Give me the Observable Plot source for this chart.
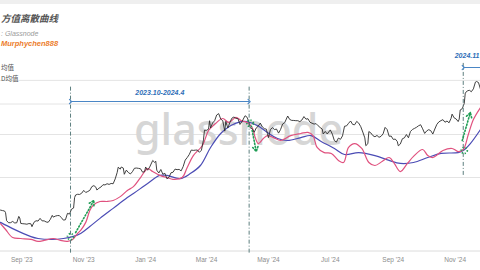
<!DOCTYPE html>
<html><head><meta charset="utf-8">
<script src="https://cdn.jsdelivr.net/npm/d3@7"></script>
<script src="https://cdn.jsdelivr.net/npm/@observablehq/plot@0.6"></script>
<style>
html,body{margin:0;padding:0;background:#fff;overflow:hidden;}
#wrap{position:relative;width:480px;height:270px;overflow:hidden;background:#fff;}
#chart svg{display:block;}
.ov{position:absolute;left:0;white-space:nowrap;line-height:1;font-family:"Liberation Sans","Noto Sans CJK SC",sans-serif;}
</style></head><body>
<div id="wrap">
<div id="chart"></div>
<div class="ov" style="top:0;width:480px;height:4px;background:#efefef"></div>
<div class="ov" id="title" style="top:14px;left:1px;font-size:9.5px;font-weight:bold;font-style:italic;color:#555;font-family:'Noto Sans CJK SC',sans-serif;"></div>
<div class="ov" id="source" style="top:29.5px;left:1px;font-size:7px;font-style:italic;color:#9a9a9a;"></div>
<div class="ov" id="author" style="top:40px;left:1px;font-size:7.5px;font-weight:bold;font-style:italic;color:#ec7c2a;"></div>
<div class="ov" id="leg1" style="top:63.5px;left:1px;font-size:6.5px;color:#555;font-family:'Noto Sans CJK SC',sans-serif;"></div>
<div class="ov" id="leg2" style="top:74.5px;left:1px;font-size:6.5px;color:#555;font-family:'Noto Sans CJK SC',sans-serif;"></div>
</div>
<script>
// ---- texts ----
const titleText = "方值离散曲线";
const sourceText = ": Glassnode";
const authorText = "Murphychen888";
const legendTexts = ["均值", "D均值"];
const watermark = "glassnode";

// ---- axis ----
const xStart = "2023-08-11", xEnd = "2024-11-26";
const tickDates = ["2023-09-01","2023-11-01","2024-01-01","2024-03-01","2024-05-01","2024-07-01","2024-09-01","2024-11-01"];
const gridPrices = [40000, 60000, 80000, 100000];
const axisPrice = 20000;

// ---- BTC price (black) ----
const btcPrice = [
["2023-08-11",29420],["2023-08-13",29280],["2023-08-15",29170],["2023-08-16",28700],["2023-08-17",26630],["2023-08-19",26100],["2023-08-21",26130],["2023-08-23",26430],["2023-08-25",26050],["2023-08-27",26100],["2023-08-29",27720],["2023-08-30",27300],["2023-08-31",25940],
["2023-09-02",25870],["2023-09-04",25830],["2023-09-06",25750],["2023-09-08",25910],["2023-09-10",25840],["2023-09-11",25160],["2023-09-13",26230],["2023-09-15",26600],["2023-09-17",26530],["2023-09-19",27210],["2023-09-21",26570],["2023-09-23",26580],["2023-09-25",26300],["2023-09-27",26220],["2023-09-29",26910],
["2023-10-01",27990],["2023-10-02",27530],["2023-10-04",27790],["2023-10-06",27930],["2023-10-08",27940],["2023-10-10",27390],["2023-10-12",26760],["2023-10-14",26860],["2023-10-16",28520],["2023-10-18",28330],["2023-10-20",29670],["2023-10-22",29990],["2023-10-23",33090],["2023-10-24",33920],["2023-10-26",34150],["2023-10-28",34090],["2023-10-30",34500],
["2023-11-01",35420],["2023-11-03",34730],["2023-11-05",35050],["2023-11-07",35430],["2023-11-09",36700],["2023-11-11",37060],["2023-11-13",36490],["2023-11-14",35540],["2023-11-16",36160],["2023-11-18",36570],["2023-11-20",37370],["2023-11-22",37290],["2023-11-24",37720],["2023-11-26",37480],["2023-11-28",37820],["2023-11-30",37710],
["2023-12-02",39460],["2023-12-04",41980],["2023-12-05",44080],["2023-12-07",43290],["2023-12-08",44170],["2023-12-10",43730],["2023-12-11",41240],["2023-12-13",42890],["2023-12-15",41930],["2023-12-17",41360],["2023-12-19",42260],["2023-12-21",43650],["2023-12-23",43740],["2023-12-25",43610],["2023-12-27",43440],["2023-12-29",42070],["2023-12-31",42270],
["2024-01-01",44170],["2024-01-03",42850],["2024-01-05",44150],["2024-01-08",46970],["2024-01-10",46110],["2024-01-11",46630],["2024-01-12",42850],["2024-01-14",41730],["2024-01-16",43150],["2024-01-18",41260],["2024-01-20",41620],["2024-01-22",39510],["2024-01-24",40080],["2024-01-26",41820],["2024-01-28",42030],["2024-01-30",43300],
["2024-02-01",43080],["2024-02-03",43190],["2024-02-05",42580],["2024-02-07",44350],["2024-02-09",47140],["2024-02-11",48300],["2024-02-13",49700],["2024-02-15",51830],["2024-02-17",51660],["2024-02-19",51780],["2024-02-21",51850],["2024-02-23",50730],["2024-02-25",51730],["2024-02-27",57060],["2024-02-28",62500],
["2024-03-01",62440],["2024-03-03",63110],["2024-03-04",68330],["2024-03-05",63800],["2024-03-07",66940],["2024-03-09",68310],["2024-03-11",72120],["2024-03-13",73080],["2024-03-15",69460],["2024-03-17",68390],["2024-03-19",61930],["2024-03-20",67910],["2024-03-22",63780],["2024-03-24",67210],["2024-03-26",69990],["2024-03-28",70780],["2024-03-30",69890],
["2024-04-01",69700],["2024-04-03",65980],["2024-04-05",67840],["2024-04-08",71630],["2024-04-10",70590],["2024-04-12",67120],["2024-04-13",63920],["2024-04-15",63430],["2024-04-17",61280],["2024-04-19",63820],["2024-04-21",64940],["2024-04-23",66840],["2024-04-25",64480],["2024-04-27",63420],["2024-04-29",63110],["2024-04-30",60640],
["2024-05-01",58250],["2024-05-03",62900],["2024-05-05",64010],["2024-05-07",62880],["2024-05-09",63160],["2024-05-11",60790],["2024-05-13",62930],["2024-05-15",66270],["2024-05-17",67050],["2024-05-20",71450],["2024-05-22",69160],["2024-05-24",68550],["2024-05-26",68520],["2024-05-28",68370],["2024-05-30",68350],
["2024-06-01",67750],["2024-06-03",68800],["2024-06-05",71080],["2024-06-07",69340],["2024-06-09",69650],["2024-06-11",67320],["2024-06-13",66770],["2024-06-15",66210],["2024-06-17",66490],["2024-06-19",65160],["2024-06-21",64100],["2024-06-23",63180],["2024-06-24",60280],["2024-06-26",61790],["2024-06-28",60320],
["2024-07-01",62680],["2024-07-03",60210],["2024-07-05",56660],["2024-07-07",55860],["2024-07-09",58020],["2024-07-11",57340],["2024-07-13",59210],["2024-07-15",64870],["2024-07-17",65100],["2024-07-19",66710],["2024-07-21",68170],["2024-07-23",65990],["2024-07-25",65780],["2024-07-27",67910],["2024-07-29",66810],["2024-07-31",64630],
["2024-08-02",61410],["2024-08-04",58120],["2024-08-05",53990],["2024-08-07",55030],["2024-08-08",61710],["2024-08-10",60880],["2024-08-12",59350],["2024-08-14",58740],["2024-08-16",59490],["2024-08-18",58430],["2024-08-20",59010],["2024-08-22",60380],["2024-08-24",64180],["2024-08-26",62880],["2024-08-28",59030],["2024-08-30",59120],
["2024-09-01",57300],["2024-09-03",57480],["2024-09-05",56180],["2024-09-06",53950],["2024-09-08",54840],["2024-09-10",57650],["2024-09-12",58130],["2024-09-14",60000],["2024-09-16",58200],["2024-09-18",61760],["2024-09-20",62950],["2024-09-22",63580],["2024-09-24",64260],["2024-09-26",65180],["2024-09-28",65790],["2024-09-30",63330],
["2024-10-02",60630],["2024-10-04",62090],["2024-10-06",62820],["2024-10-08",62220],["2024-10-10",60270],["2024-10-12",63200],["2024-10-14",66050],["2024-10-16",67610],["2024-10-18",68410],["2024-10-20",69030],["2024-10-22",67380],["2024-10-24",68160],["2024-10-26",67010],["2024-10-28",69910],["2024-10-29",72720],["2024-10-31",70220],
["2024-11-02",69480],["2024-11-04",67800],["2024-11-05",69360],["2024-11-06",75640],["2024-11-08",76540],["2024-11-10",80470],["2024-11-11",88700],["2024-11-13",90580],["2024-11-15",91070],["2024-11-17",89850],["2024-11-19",92310],["2024-11-21",98400],["2024-11-22",98980],["2024-11-24",98000],["2024-11-26",91990]
];

// ---- short average (pink) ----
const shortAvg = [
["2023-08-11",25900],["2023-08-16",24500],["2023-08-23",22700],["2023-08-31",22500],["2023-09-10",22300],["2023-09-17",21900],["2023-09-23",22100],["2023-10-02",22500],["2023-10-09",22100],["2023-10-16",21900],["2023-10-21",22300],["2023-10-26",23600],["2023-10-29",24300],
["2023-11-03",26200],["2023-11-07",29300],["2023-11-10",30700],["2023-11-17",31900],["2023-11-24",31900],["2023-11-30",32200],["2023-12-07",33400],["2023-12-14",35400],["2023-12-20",36700],["2023-12-27",40000],
["2024-01-03",43500],["2024-01-08",42300],["2024-01-15",40800],["2024-01-22",40000],["2024-01-28",39300],["2024-02-06",40000],["2024-02-11",44000],["2024-02-17",49200],["2024-02-26",54100],
["2024-03-03",62300],["2024-03-10",66600],["2024-03-17",69800],["2024-03-23",67200],["2024-03-30",70500],["2024-04-04",68500],["2024-04-10",67200],["2024-04-15",64100],["2024-04-18",58300],["2024-04-21",55100],["2024-04-26",57800],["2024-04-30",59400],
["2024-05-06",58300],["2024-05-13",56700],["2024-05-23",59400],["2024-06-02",60600],["2024-06-09",61200],["2024-06-14",59400],["2024-06-18",53100],["2024-06-25",50600],["2024-07-02",50200],["2024-07-09",47000],["2024-07-14",46100],["2024-07-19",53100],["2024-07-25",55100],
["2024-08-01",52600],["2024-08-08",46100],["2024-08-14",44800],["2024-08-21",46500],["2024-08-28",48300],["2024-09-02",45700],["2024-09-08",42300],["2024-09-15",45700],["2024-09-21",48800],["2024-09-30",52100],["2024-10-05",49200],["2024-10-10",48300],["2024-10-20",51600],["2024-10-29",52600],
["2024-11-04",51100],["2024-11-09",52100],["2024-11-14",60000],["2024-11-19",69100],["2024-11-26",77400]
];

// ---- long average (blue) ----
const longAvg = [
["2023-08-11",26200],["2023-08-23",24700],["2023-09-10",22900],["2023-09-17",22500],["2023-09-30",22300],["2023-10-12",22500],["2023-10-21",22900],["2023-10-29",23600],["2023-11-07",25200],["2023-11-17",27200],["2023-11-30",29900],
["2023-12-14",33100],["2023-12-20",34400],["2024-01-03",37800],["2024-01-15",40800],["2024-01-22",40800],["2024-02-04",39600],["2024-02-14",41500],["2024-02-24",44800],["2024-03-05",53100],["2024-03-15",60600],["2024-03-25",65300],
["2024-04-04",67800],["2024-04-10",67800],["2024-04-20",65300],["2024-04-30",61200],["2024-05-10",57800],["2024-05-20",56700],["2024-06-02",58300],["2024-06-12",59400],["2024-06-22",56200],["2024-07-05",52600],["2024-07-15",49700],["2024-07-29",50600],
["2024-08-14",49200],["2024-08-28",47000],["2024-09-08",45700],["2024-09-21",46100],["2024-10-05",48300],["2024-10-18",50200],["2024-11-04",50600],["2024-11-09",51600],["2024-11-16",55100],["2024-11-26",62900]
];

// ---- annotations ----
const markerLines = [["2023-10-19",19600,94400],["2024-04-12",19600,94400],["2024-11-09",40800,118000]];
const spanArrows = [["2023-10-19",81900,"2024-04-12",81900,true],["2024-11-09",112900,"2024-12-25",112900,false]];
const spanLabels = [["2024-01-15",89200,"2023.10-2024.4","middle"],["2024-11-26",126000,"2024.11","end"]];
const rings = [["2023-10-19",22900,7],["2024-04-13",66600,8],["2024-11-10",51600,7]];
const greenArrows = [["2023-10-24",23800,"2023-11-11",32200],["2024-04-15",62300,"2024-04-19",51100],["2024-11-08",56700,"2024-11-16",73800]];

// ---- build ----
const parse = d3.utcParse("%Y-%m-%d");
const rows = arr => arr.map(([d, v]) => ({date: parse(d), value: v}));
document.getElementById("title").textContent = titleText;
document.getElementById("source").textContent = sourceText;
document.getElementById("author").textContent = authorText;
document.getElementById("leg1").textContent = legendTexts[0];
document.getElementById("leg2").textContent = legendTexts[1];

const green = "#1f9d55";
const labelStyle = {x: d => parse(d[0]), y: d => d[1], text: d => d[2], fill: "#2f6fb8", fontSize: 7, fontWeight: "bold", fontStyle: "italic"};
const chart = Plot.plot({
  width: 480, height: 270,
  marginTop: 0, marginBottom: 19.5, marginLeft: 0, marginRight: 0,
  style: {background: "transparent", fontFamily: "Liberation Sans, Noto Sans, sans-serif", fontSize: "6.5px", color: "#8c8c8c", overflow: "hidden"},
  x: {type: "utc", domain: [parse(xStart), parse(xEnd)], label: null},
  y: {type: "log", domain: [20000, 212400], axis: null},
  marks: [
    Plot.ruleY(gridPrices, {stroke: "#e4e4e4", strokeWidth: 1}),
    Plot.ruleY([axisPrice], {stroke: "#dcdcdc", strokeWidth: 1}),
    Plot.text([watermark], {frameAnchor: "middle", dx: -2, dy: 5, fontSize: 43, fill: "#d6d6d6", fontFamily: "Noto Sans", fontWeight: 500}),
    Plot.axisX(tickDates.map(parse), {tickSize: 0, tickPadding: 6, tickFormat: d3.utcFormat("%b '%y"), fill: "#8c8c8c", label: null}),
    Plot.line(rows(longAvg), {x: "date", y: "value", stroke: "#4b4cb5", strokeWidth: 1.2, curve: "catmull-rom"}),
    Plot.line(rows(shortAvg), {x: "date", y: "value", stroke: "#e0527f", strokeWidth: 1.2, curve: "catmull-rom"}),
    Plot.line(rows(btcPrice), {x: "date", y: "value", stroke: "#2d2d2d", strokeWidth: 0.9}),
    Plot.ruleX(markerLines, {x: d => parse(d[0]), y1: d => d[1], y2: d => d[2], stroke: "#5d7f7f", strokeWidth: 1, strokeDasharray: "4,2,1,2"}),
    Plot.link(spanArrows.filter(d => d[4]), {x1: d => parse(d[0]), y1: d => d[1], x2: d => parse(d[2]), y2: d => d[3], stroke: "#4a86c5", strokeWidth: 1.1, markerStart: "arrow", markerEnd: "arrow"}),
    Plot.link(spanArrows.filter(d => !d[4]), {x1: d => parse(d[0]), y1: d => d[1], x2: d => parse(d[2]), y2: d => d[3], stroke: "#4a86c5", strokeWidth: 1.1, markerStart: "arrow", clip: true}),
    Plot.text(spanLabels.filter(d => d[3] === "middle"), {...labelStyle, textAnchor: "middle"}),
    Plot.text(spanLabels.filter(d => d[3] === "end"), {...labelStyle, textAnchor: "end", dx: -1}),
    Plot.dot(rings, {x: d => parse(d[0]), y: d => d[1], r: d => d[2], stroke: green, strokeWidth: 1.8, strokeDasharray: "1.2,1.8", fill: "none"}),
    Plot.arrow(greenArrows, {x1: d => parse(d[0]), y1: d => d[1], x2: d => parse(d[2]), y2: d => d[3], stroke: green, strokeWidth: 1.6, strokeDasharray: "1.2,2", headLength: 5})
  ]
});
document.getElementById("chart").appendChild(chart);
</script>
</body></html>
